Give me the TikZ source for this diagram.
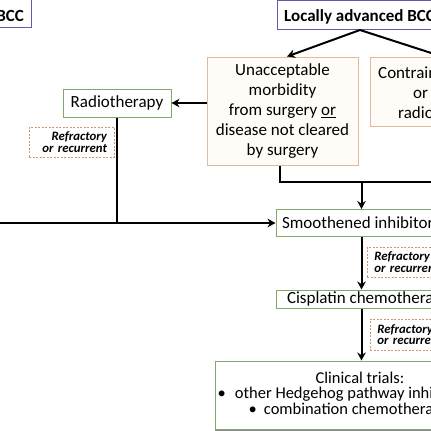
\documentclass[tikz,border=0pt]{standalone}
\usepackage{fontspec}
\setmainfont{Carlito}
\usetikzlibrary{arrows.meta,calc,shadows}
\definecolor{bluebd}{RGB}{100,90,170}
\definecolor{orbd}{RGB}{225,185,155}
\definecolor{orfill}{RGB}{255,251,247}
\definecolor{grbd}{RGB}{125,170,105}
\definecolor{dashbd}{RGB}{205,150,115}
\tikzset{
  base/.style={rectangle, font=\fontsize{17}{20}\selectfont, inner sep=0pt, line width=1pt},
  bluebox/.style={base, draw=bluebd, fill=white},
  orbox/.style={base, draw=orbd, fill=orfill},
  grbox/.style={base, draw=grbd, fill=white},
  refbox/.style={rectangle, draw=dashbd, dash pattern=on 2pt off 1.5pt, line width=0.8pt,
    font=\fontsize{12.8}{11.8}\selectfont\bfseries\itshape, inner ysep=0pt, inner xsep=7pt},
  lbl/.style={inner sep=0pt, font=\fontsize{17}{20}\selectfont},
  clbl/.style={inner sep=0pt, font=\fontsize{16.5}{19}\selectfont},
  conn/.style={line width=2pt, black},
  arr/.style={conn, -{Stealth[length=8pt,width=8.5pt]}},
}
\begin{document}
\begin{tikzpicture}[x=1pt,y=-1pt]
\useasboundingbox (0,0) rectangle (431,431);
\clip (0,0) rectangle (431,431);

% top boxes
\node[bluebox, minimum width=92pt, minimum height=32pt, anchor=south east] (bcc) at (32,28) {};
\node[lbl, font=\fontsize{17}{20}\selectfont\bfseries, anchor=base east] (bcct) at (24,21) {BCC};

\node[bluebox, minimum width=166pt, minimum height=29pt, anchor=south] (lab) at (360,30) {};
\node[lbl, font=\fontsize{17}{20}\selectfont\bfseries, anchor=base west] (labt) at (284,21) {Locally advanced BCC};

% second row
\node[orbox, minimum width=151pt, minimum height=108pt, align=center] (unacc) at (282.5,111)
  {Unacceptable\\morbidity\\from surgery \underline{or}\\disease not cleared\\by surgery};
\node[orbox, minimum width=144pt, minimum height=69pt] (contra) at (442,91.5) {};
\node[lbl, anchor=base west] (c1) at (378,78) {Contraindication};
\node[lbl, anchor=base west] (c2) at (413,98) {or};
\node[lbl, anchor=base west] (c3) at (398,118) {radiotherapy};

\node[grbox, minimum width=108pt, minimum height=28pt] (radio) at (117,103) {Radiotherapy};
\node[refbox, minimum width=85pt, minimum height=30pt, text width=71pt, align=right] (ref1) at (71.5,142)
  {Refractory\\or recurrent};

% lower boxes
\node[grbox, minimum width=171pt, minimum height=27pt, inner xsep=6pt] (smooth) at (361.5,223)
  {\makebox[159pt][l]{Smoothened inhibitors}};
\node[refbox, minimum width=120pt, minimum height=30pt, text width=106pt, align=left, anchor=west] (ref2) at (367,262)
  {Refractory\\or recurrent};
\node[grbox, minimum width=171pt, minimum height=18pt, inner xsep=11pt] (cis) at (361.5,299)
  {\makebox[149pt][l]{Cisplatin chemotherapy}};
\node[refbox, minimum width=120pt, minimum height=31pt, text width=106pt, align=left, anchor=west] (ref3) at (370,334.5)
  {Refractory\\or recurrent};
\node[grbox, minimum width=293pt, minimum height=68pt,
      drop shadow={shadow xshift=0pt, shadow yshift=-1.6pt, fill=black!45, opacity=1}] (clin) at (361.5,395) {};
\node[clbl, anchor=base] (cl1) at (360,383) {Clinical trials:};
\node[clbl, anchor=base west] (cl2) at (217.5,398.5) {\textbullet\hspace{9pt}other Hedgehog pathway inhibitors};
\node[clbl, anchor=base west] (cl3) at (248.5,414) {\textbullet\hspace{7pt}combination chemotherapy};

% connectors
\coordinate (lefte) at (-10,223);
\coordinate (rjoin) at (445,182);
\draw[arr] (lab.south) -- ($(unacc.north)+(4.5,0)$);
\draw[arr] (lab.south) -- (contra.north);
\draw[arr] (unacc.west |- radio.east) -- (radio.east);
\draw[conn] (radio.south) -- (radio.south |- smooth.west);
\draw[arr] (lefte) -- (smooth.west);
\draw[conn] ($(unacc.south)+(-3,0)$) |- (rjoin);
\draw[arr] (smooth.north |- rjoin) -- (smooth.north);
\draw[arr] (smooth.south) -- (cis.north);
\draw[arr] (cis.south) -- (clin.north);
\end{tikzpicture}
\end{document}
